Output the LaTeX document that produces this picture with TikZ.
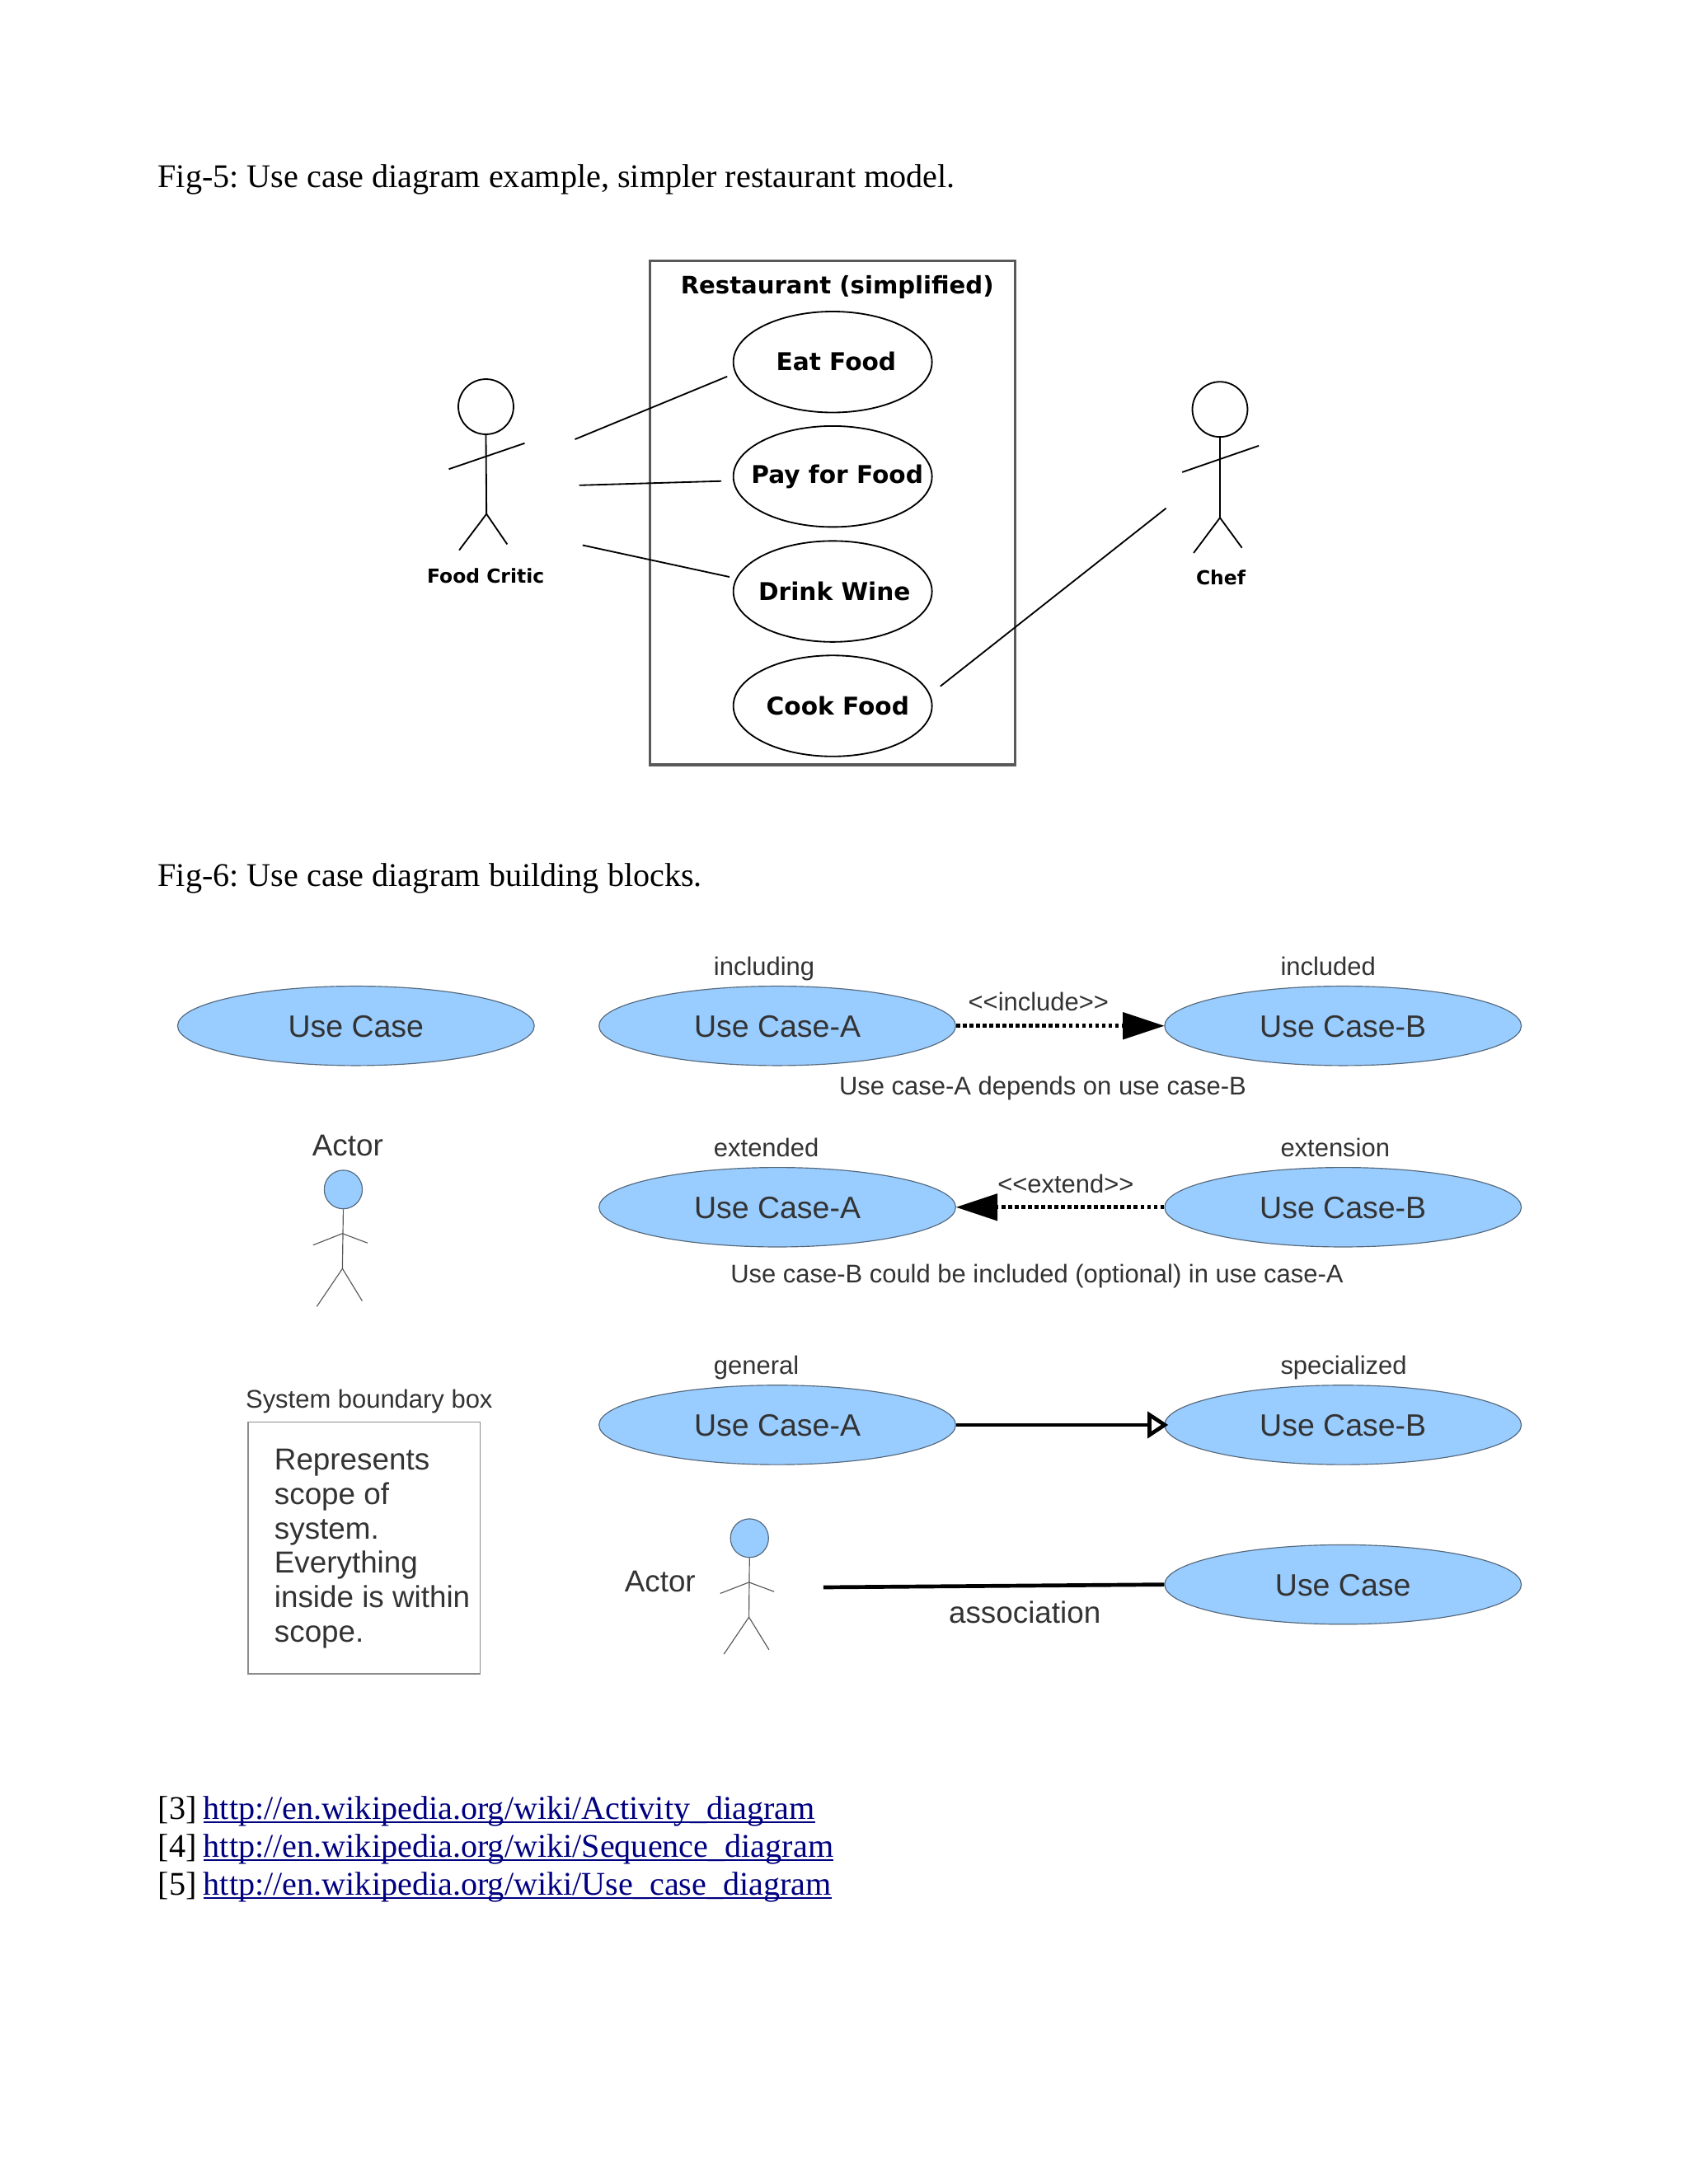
\documentclass[tikz,border=0pt]{standalone}
\usepackage{fontspec}
\setmainfont{Liberation Serif}
\newfontfamily\arialf{Liberation Sans}
\newfontfamily\vera{DejaVu Sans}
\usetikzlibrary{shapes.geometric,arrows.meta}
\definecolor{ucfill}{HTML}{99CCFF}
\definecolor{ucline}{HTML}{55697C}
\definecolor{txt}{HTML}{333333}
\definecolor{lnk}{HTML}{000080}
\definecolor{stickc}{HTML}{5A5A5A}
\newcommand\lnkul[1]{\kern-0.5pt\setbox0\hbox{#1}\rlap{\rule[-1.3pt]{\wd0}{0.55pt}}\box0}
\newcommand\foodtext[2]{\makebox[0pt]{\kern#1 #2}}
\frenchspacing
\tikzset{
  page text/.style={anchor=base west,inner sep=0pt,font=\fontsize{12}{14}\selectfont},
  lbl/.style={anchor=base west,inner sep=0pt,yshift=-0.5pt,text=txt,font=\arialf\fontsize{9.25}{11}\selectfont},
  biglbl/.style={anchor=base west,inner sep=0pt,yshift=-0.5pt,text=txt,font=\arialf\fontsize{11}{13}\selectfont},
  usecase/.style={ellipse,draw=ucline,line width=0.35pt,fill=ucfill,inner sep=0pt,
    minimum width=129.3pt,minimum height=28.8pt,text=txt,
    font=\arialf\fontsize{11.2}{13}\selectfont,text height=8pt,text depth=0pt},
  stick/.style={draw=stickc,line width=0.35pt},
  head/.style={ellipse,draw=ucline,line width=0.35pt,fill=ucfill,inner sep=0pt,minimum width=13.8pt,minimum height=14pt},
  food/.style={ellipse,draw=black,line width=0.55pt,fill=white,inner sep=0pt,
    minimum width=72pt,minimum height=36.6pt,font=\vera\bfseries\fontsize{8.85}{10}\selectfont,text height=6.4pt,text depth=0pt},
  rhead/.style={ellipse,draw=black,line width=0.55pt,inner sep=0pt,minimum width=20pt,minimum height=20pt},
  rline/.style={draw=black,line width=0.55pt},
  rlbl/.style={anchor=base,inner sep=0pt,font=\vera\bfseries\fontsize{7}{9}\selectfont},
  depline/.style={draw=black,line width=1.4pt,dash pattern=on 1.4pt off 1pt,
    -{Triangle[length=15pt,width=10pt,line width=0pt]}},
  genline/.style={draw=black,line width=1.4pt,shorten >=-1.5pt,
    -{Triangle[open,fill=white,length=7.5pt,width=9.5pt]}},
  assoc/.style={draw=black,line width=1.4pt},
}
\begin{document}
\begin{tikzpicture}[x=0.505pt,y=-0.505pt]
\useasboundingbox (0,0) rectangle (1211.8,1568);
% headings
\node[page text] (fig5) at (113,134.8) {Fig-5: Use case diagram example, simpler restaurant model.};
\node[page text] (fig6) at (113,636.3) {Fig-6: Use case diagram building blocks.};
% restaurant box
\node[draw=black!65,line width=0.9pt,inner sep=0pt,minimum width=132.1pt,minimum height=182.6pt] (sysbox) at (597.6,368.3) {};
\node[anchor=base,inner sep=0pt,font=\vera\bfseries\fontsize{8.7}{11}\selectfont] (systitle) at (601,211) {Restaurant (simplified)};
\node[food] (eat) at (597.7,259.9) {\foodtext{2.5pt}{Eat Food}};
\node[food,text depth=1.7pt] (pay) at (597.7,342.1) {\foodtext{3.3pt}{Pay for Food}};
\node[food] (drink) at (597.7,424.6) {\foodtext{1.3pt}{Drink Wine}};
\node[food] (cook) at (597.7,506.8) {\foodtext{3.7pt}{Cook Food}};
% food critic
\node[rhead] (chead) at (348.8,292) {};
\coordinate (chip) at (349.2,369);
\coordinate (carml) at (322.2,336.8);
\coordinate (carmr) at (376.6,318.2);
\coordinate (clegl) at (329.6,395);
\coordinate (clegr) at (364.1,390.8);
\draw[rline] (chead.south) -- (chip);
\draw[rline] (carml) -- (carmr);
\draw[rline] (clegl) -- (chip) -- (clegr);
\node[rlbl] (clabel) at (348.6,418.8) {Food Critic};
% chef
\node[rhead] (fhead) at (875.7,293.9) {};
\coordinate (fhip) at (875.7,371.7);
\coordinate (farml) at (848.6,339);
\coordinate (farmr) at (903.6,320);
\coordinate (flegl) at (856.8,397);
\coordinate (flegr) at (891.5,393.3);
\draw[rline] (fhead.south) -- (fhip);
\draw[rline] (farml) -- (farmr);
\draw[rline] (flegl) -- (fhip) -- (flegr);
\node[rlbl] (flabel) at (876.3,419.6) {Chef};
% associations (with gaps, as printed)
\coordinate (a1s) at (412.7,315.4); \coordinate (a1e) at (522,270.3);
\coordinate (a2s) at (415.7,348.4); \coordinate (a2e) at (517.8,345.4);
\coordinate (a3s) at (418.2,391.4); \coordinate (a3e) at (523.6,414.2);
\coordinate (a4s) at (675,492.7);   \coordinate (a4e) at (837,364.9);
\draw[rline] (a1s) -- (a1e);
\draw[rline] (a2s) -- (a2e);
\draw[rline] (a3s) -- (a3e);
\draw[rline] (a4s) -- (a4e);
% building blocks: ellipses
\node[usecase] (uc0) at (255.5,736.5) {Use Case};
\node[usecase] (ua1) at (558,736.5) {Use Case-A};
\node[usecase] (ub1) at (964,736.5) {Use Case-B};
\node[usecase] (ua2) at (558,866.7) {Use Case-A};
\node[usecase] (ub2) at (964,866.7) {Use Case-B};
\node[usecase] (ua3) at (558,1023) {Use Case-A};
\node[usecase] (ub3) at (964,1023) {Use Case-B};
\node[usecase] (uc4) at (964,1137.6) {Use Case};
% labels
\node[lbl] (t1) at (512,699.5) {including};
\node[lbl] (t2) at (918.8,699.5) {included};
\node[lbl] (t3) at (694.6,725) {<{}<include>{}>};
\node[lbl] (t4) at (602,785) {Use case-A depends on use case-B};
\node[lbl] (t5) at (512,829.5) {extended};
\node[lbl] (t6) at (918.8,829.5) {extension};
\node[lbl] (t7) at (715.7,855.2) {<{}<extend>{}>};
\node[lbl] (t8) at (524,920.2) {Use case-B could be included (optional) in use case-A};
\node[lbl] (t9) at (512,985.5) {general};
\node[lbl] (t10) at (918.8,985.5) {specialized};
\node[lbl] (t11) at (176,1010) {System boundary box};
\node[biglbl] (act1) at (223.8,828.8) {Actor};
\node[biglbl] (act2) at (448,1142) {Actor};
\node[biglbl] (t12) at (680.7,1164.3) {association};
% connectors
\draw[depline] (ua1.east) -- (ub1.west);
\draw[depline] (ub2.west) -- (ua2.east);
\draw[genline] (ua3.east) -- (ub3.west);
\coordinate (as) at (591,1139.6);
\draw[assoc] (as) -- (uc4.west);
% boundary box
\node[draw=black!45,line width=0.4pt,inner sep=0pt,minimum width=84.1pt,minimum height=91.3pt] (bbox) at (261.3,1111.4) {};
\node[anchor=base west,inner sep=0pt,text=txt,align=left,font=\arialf\fontsize{11}{12.5}\selectfont] (bbtext) at (196.6,1179) {Represents\\scope of\\system.\\Everything\\inside is within\\scope.};
% actor 1
\node[head] (h1) at (246.4,854) {};
\coordinate (hip1) at (245.8,910.8);
\coordinate (neck1) at (245.8,885.6);
\coordinate (al1) at (224.7,893.9);
\coordinate (ar1) at (263.8,892.4);
\coordinate (ll1) at (227.4,938);
\coordinate (lr1) at (260,934);
\draw[stick] (h1.south) -- (hip1);
\draw[stick] (al1) -- (neck1) -- (ar1);
\draw[stick] (ll1) -- (hip1) -- (lr1);
% actor 2
\node[head] (h2) at (538,1104.3) {};
\coordinate (hip2) at (537.6,1161);
\coordinate (neck2) at (537.6,1136);
\coordinate (al2) at (517,1144);
\coordinate (ar2) at (555.7,1142.7);
\coordinate (ll2) at (519.6,1187.6);
\coordinate (lr2) at (552,1184.4);
\draw[stick] (h2.south) -- (hip2);
\draw[stick] (al2) -- (neck2) -- (ar2);
\draw[stick] (ll2) -- (hip2) -- (lr2);
% references
\node[page text] (r3) at (113,1306) {[3] {\color{lnk}\lnkul{http://en.wikipedia.org/wiki/Activity\_diagram}}};
\node[page text] (r4) at (113,1333.3) {[4] {\color{lnk}\lnkul{http://en.wikipedia.org/wiki/Sequence\_diagram}}};
\node[page text] (r5) at (113,1360.8) {[5] {\color{lnk}\lnkul{http://en.wikipedia.org/wiki/Use\_case\_diagram}}};
\end{tikzpicture}
\end{document}
